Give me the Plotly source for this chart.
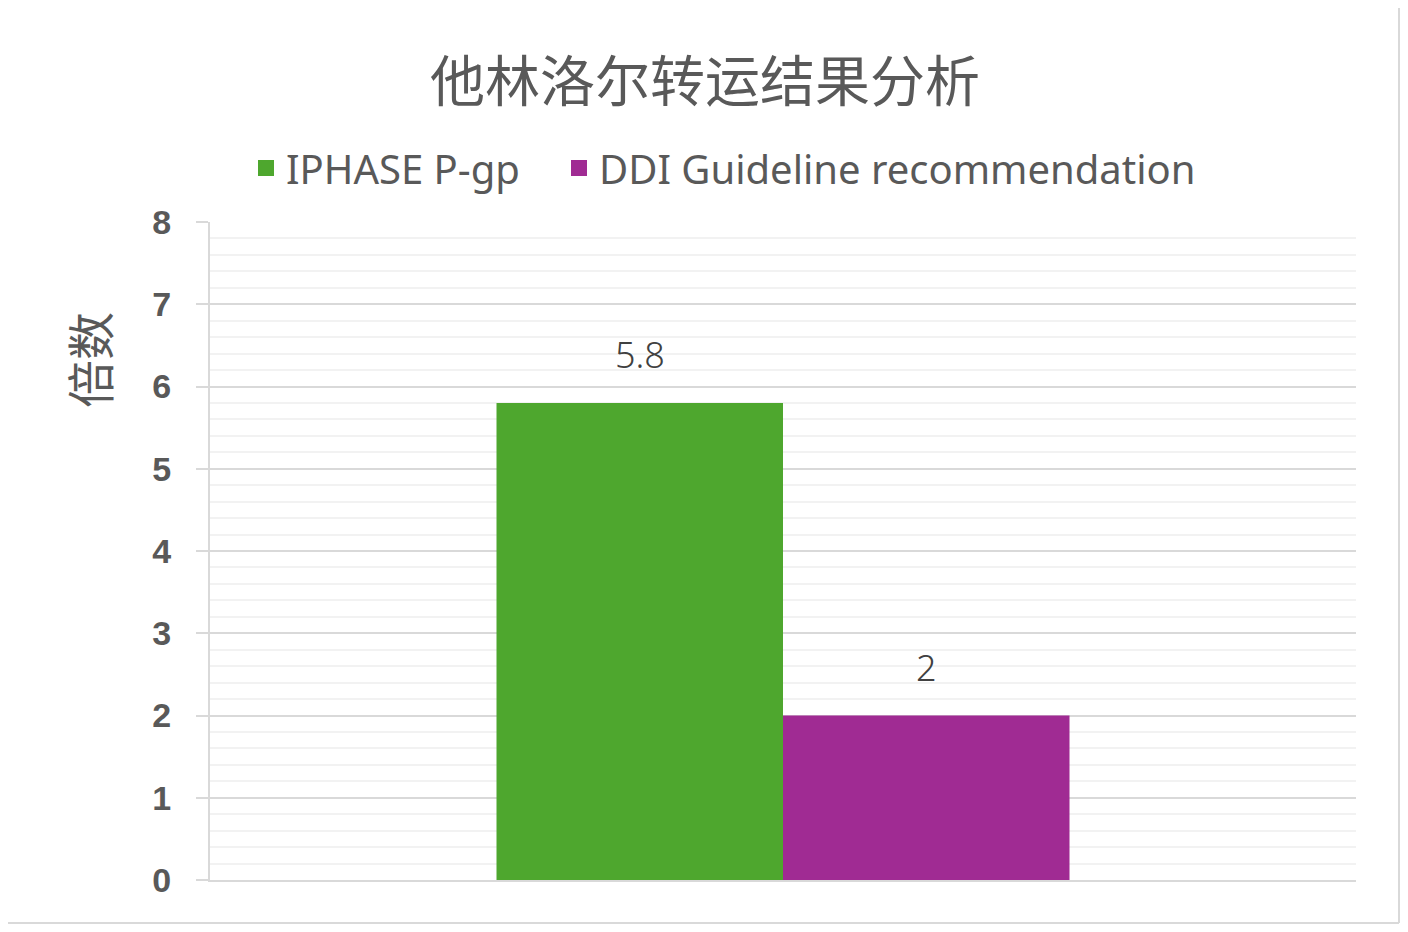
import plotly.graph_objects as go

# data
categories = [""]
series_names = ["IPHASE P-gp", "DDI Guideline recommendation"]
iphase_values = [5.8]
ddi_values = [2]
bar_colors = ["#4EA72E", "#A02B93"]
y_ticks = [0, 1, 2, 3, 4, 5, 6, 7, 8]

# the page body adds an 8px margin, so the figure is kept inside the window
W, H = 1392, 916
ML, MR, MT, MB = 202, 44, 214, 44
cjk = "Noto Sans CJK SC"
grey = "#595959"
legend_ids = ["legend", "legend2"]
legend_left = [238, 551]

fig = go.Figure()
for name, vals, color in zip(series_names, [iphase_values, ddi_values], bar_colors):
    fig.add_trace(go.Bar(x=categories, y=vals, name=name, legendgroup=name, showlegend=False,
                         marker=dict(color=color, line=dict(width=0))))
# legend entries with bigger square keys, one legend box each so the gap matches
for name, color, lg in zip(series_names, bar_colors, legend_ids):
    fig.add_trace(go.Scatter(x=[None], y=[None], mode="markers", name=name, legendgroup=name, legend=lg,
                             marker=dict(symbol="square", size=16, color=color)))

pw, ph = W - ML - MR, H - MT - MB
bar_px = pw * 0.25

# value labels above each bar
for i, vals in enumerate([iphase_values, ddi_values]):
    for j, v in enumerate(vals):
        fig.add_annotation(
            x=j, y=v, xref="x", yref="y", text=f"{v:g}", showarrow=False,
            xshift=(i - 0.5) * bar_px, yshift=48, yanchor="middle",
            font=dict(family="Noto Sans", size=36, color="#404040", weight=300),
        )

legend_style = dict(orientation="h", xanchor="left", y=1 + (MT - 160) / ph, yanchor="middle",
                    font=dict(family="Noto Sans", size=40, color=grey), itemwidth=30)
fig.update_layout(
    width=W, height=H,
    margin=dict(l=ML, r=MR, t=MT, b=MB),
    paper_bgcolor="white", plot_bgcolor="white",
    barmode="group", bargap=0.5, bargroupgap=0,
    title=dict(text="他林洛尔转运结果分析", x=697 / W, xanchor="center", y=1 - 74 / H, yanchor="middle",
               font=dict(family=cjk, size=55, color=grey)),
    legend=dict(x=(legend_left[0] - ML) / pw, **legend_style),
    legend2=dict(x=(legend_left[1] - ML) / pw, **legend_style),
    showlegend=True,
)
fig.update_yaxes(
    range=[0, 8], tickvals=y_ticks, showgrid=True, gridcolor="#D9D9D9", gridwidth=2,
    zeroline=False, showline=True, linecolor="#D9D9D9", linewidth=2,
    ticks="outside", ticklen=12, tickcolor="#D9D9D9", tickwidth=2, ticklabelstandoff=18,
    tickfont=dict(family="Liberation Sans", size=34, color=grey, weight="bold"),
    minor=dict(dtick=0.2, showgrid=True, gridcolor="#F2F2F2", gridwidth=2),
)
fig.update_xaxes(range=[-0.5, len(categories) - 0.5], showticklabels=False, showline=True,
                 linecolor="#D9D9D9", linewidth=2, showgrid=False)

fig.add_annotation(
    text="倍数", textangle=-90, xref="paper", yref="paper",
    x=(80 - ML) / pw, y=1 - (352 - MT) / ph, xanchor="center", yanchor="middle", showarrow=False,
    font=dict(family=cjk, size=48, color=grey),
)
# outer chart border (right and bottom edges)
fig.add_shape(type="line", xref="paper", yref="paper",
              x0=(W - 1 - ML) / pw, x1=(W - 1 - ML) / pw, y0=-(MB - 1) / ph, y1=1 + MT / ph,
              line=dict(color="#D9D9D9", width=2))
fig.add_shape(type="line", xref="paper", yref="paper",
              x0=-ML / pw, x1=(W - 1 - ML) / pw, y0=-(MB - 1) / ph, y1=-(MB - 1) / ph,
              line=dict(color="#D9D9D9", width=2))

fig.write_html("out.html")
